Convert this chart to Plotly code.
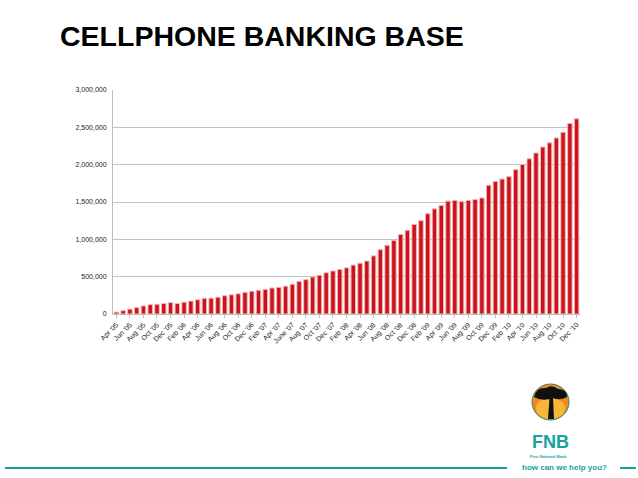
import plotly.graph_objects as go

# ---- data ----
month_abbr = ["Jan", "Feb", "Mar", "Apr", "May", "Jun", "Jul", "Aug", "Sep", "Oct", "Nov", "Dec"]
months = []
for y in range(2005, 2011):
    for m in month_abbr:
        months.append(f"{m} '{str(y)[2:]}")
months = months[3:]  # Apr '05 .. Dec '10 (69 months)

customers = [
    25000, 45000, 65000, 85000, 108000, 125000, 130000, 140000, 152000, 140000,
    158000, 173000, 190000, 210000, 212000, 225000, 245000, 257000, 270000, 290000,
    305000, 318000, 330000, 348000, 357000, 372000, 398000, 435000, 460000, 495000,
    518000, 552000, 576000, 596000, 618000, 655000, 680000, 710000, 778000, 862000,
    920000, 986000, 1065000, 1120000, 1200000, 1250000, 1343000, 1408000, 1453000, 1512000,
    1522000, 1505000, 1522000, 1534000, 1554000, 1724000, 1775000, 1808000, 1840000, 1933000,
    2002000, 2078000, 2156000, 2236000, 2292000, 2358000, 2433000, 2552000, 2614000,
]

tick_labels = [
    "Apr '05", "Jun '05", "Aug '05", "Oct '05", "Dec '05", "Feb '06", "Apr '06", "Jun '06",
    "Aug '06", "Oct '06", "Dec '06", "Feb '07", "Apr '07", "June '07", "Aug '07", "Oct '07",
    "Dec '07", "Feb '08", "Apr '08", "Jun '08", "Aug '08", "Oct '08", "Dec '08", "Feb '09",
    "Apr '09", "Jun '09", "Aug '09", "Oct '09", "Dec '09", "Feb '10", "Apr '10", "Jun '10",
    "Aug '10", "Oct '10", "Dec '10",
]
y_ticks = [0, 500000, 1000000, 1500000, 2000000, 2500000, 3000000]

fig = go.Figure()
fig.add_trace(go.Bar(
    x=months, y=customers,
    marker=dict(color="#c8141c", line=dict(color="#f2b3b5", width=1)),
    hoverinfo="x+y",
))

fig.update_layout(
    width=638, height=478,
    margin=dict(l=113, r=58, t=90, b=164),
    paper_bgcolor="white", plot_bgcolor="white",
    bargap=0.34,
    showlegend=False,
    font=dict(family="Liberation Sans, Arial, sans-serif", color="#222222"),
    xaxis=dict(
        type="category",
        tickvals=months[::2], ticktext=tick_labels,
        tickangle=-45, tickfont=dict(size=7, color="#222222"),
        ticks="outside", ticklen=3, tickcolor="#bfbfbf",
        showline=True, linecolor="#bfbfbf", linewidth=1,
        showgrid=False,
    ),
    yaxis=dict(
        range=[0, 3000000], tickvals=y_ticks, tickformat=",",
        tickfont=dict(size=7, color="#222222"),
        showgrid=True, gridcolor="#c4c4c4", gridwidth=1,
        showline=True, linecolor="#bfbfbf", linewidth=1,
        zeroline=False, ticks="", ticklabelstandoff=4,
    ),
)

# ---- pixel -> paper helpers ----
def px(x):
    return (x - 113) / 467

def py(y):
    return (314 - y) / 224

# Title
fig.add_annotation(
    text="<b>CELLPHONE BANKING BASE</b>", xref="paper", yref="paper",
    x=px(58), y=py(36), xanchor="left", yanchor="middle",
    showarrow=False, font=dict(size=28.5, color="#000000", family="Liberation Sans, Arial, sans-serif"),
)

# ---- FNB branding ----
teal = "#15a3a0"
fig.add_shape(type="line", xref="paper", yref="paper",
              x0=px(5), x1=px(507), y0=py(468), y1=py(468), line=dict(color=teal, width=2))
fig.add_shape(type="line", xref="paper", yref="paper",
              x0=px(620), x1=px(636), y0=py(468), y1=py(468), line=dict(color=teal, width=2))
fig.add_shape(type="circle", xref="paper", yref="paper",
              x0=px(532), x1=px(569), y0=py(384), y1=py(420),
              fillcolor="#f08a1c", line=dict(color="#2a8a7a", width=1))
fig.add_shape(type="circle", xref="paper", yref="paper",
              x0=px(536), x1=px(565), y0=py(398), y1=py(419),
              fillcolor="#f8b638", line=dict(width=0))
fig.add_shape(type="path", xref="paper", yref="paper",
              path=(f"M {px(534)},{py(397)} Q {px(536)},{py(387)} {px(546)},{py(388)} "
                    f"Q {px(552)},{py(384)} {px(558)},{py(389)} "
                    f"Q {px(567)},{py(389)} {px(567)},{py(397)} "
                    f"Q {px(560)},{py(401)} {px(553)},{py(398)} "
                    f"Q {px(543)},{py(402)} {px(534)},{py(397)} Z"),
              fillcolor="#111111", line=dict(width=0))
fig.add_shape(type="path", xref="paper", yref="paper",
              path=(f"M {px(549.5)},{py(398)} L {px(553)},{py(398)} L {px(554)},{py(419)} "
                    f"L {px(548)},{py(419)} Z"),
              fillcolor="#111111", line=dict(width=0))
fig.add_annotation(text="<b>FNB</b>", xref="paper", yref="paper", x=px(550.5), y=py(442),
                   xanchor="center", yanchor="middle", showarrow=False,
                   font=dict(size=18, color=teal, family="Liberation Sans, Arial, sans-serif"))
fig.add_annotation(text="<b>First National Bank</b>", xref="paper", yref="paper", x=px(548), y=py(456),
                   xanchor="center", yanchor="middle", showarrow=False,
                   font=dict(size=4, color=teal, family="Liberation Sans, Arial, sans-serif"))
fig.add_annotation(text="<b>how can we help you?</b>", xref="paper", yref="paper", x=px(564), y=py(467.5),
                   xanchor="center", yanchor="middle", showarrow=False,
                   font=dict(size=8, color=teal, family="Liberation Sans, Arial, sans-serif"))

fig.write_html("out.html", config={"displayModeBar": False},
               post_script="document.body.style.margin='0';document.body.style.overflow='hidden';")
